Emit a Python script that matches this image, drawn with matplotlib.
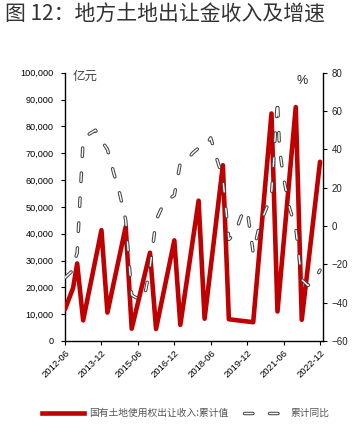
import matplotlib
matplotlib.use('Agg')
import matplotlib.pyplot as plt
import matplotlib.dates as mdates
import matplotlib.ticker as mticker
from matplotlib.lines import Line2D
from matplotlib.legend_handler import HandlerTuple
import pandas as pd

plt.rcParams['font.family'] = ['Liberation Sans', 'Noto Sans CJK SC', 'DejaVu Sans']
plt.rcParams['lines.scale_dashes'] = False

title = '图 12：地方土地出让金收入及增速'
value_label = '国有土地使用权出让收入:累计值'
yoy_label = '累计同比'
left_unit = '亿元'
right_unit = '%'

# cumulative land-transfer revenue (亿元)
value_dates = ['2012-06', '2012-10', '2012-12', '2013-03', '2013-12', '2014-03', '2014-12',
               '2015-03', '2015-12', '2016-03', '2016-12', '2017-03', '2017-12', '2018-03',
               '2018-12', '2019-03', '2020-03', '2020-12', '2021-03', '2021-12', '2022-03',
               '2022-12']
values = [11800, 19800, 28900, 7700, 41300, 10600, 42600,
          4600, 32900, 4500, 37500, 6000, 52300, 8300,
          65500, 8100, 7000, 84800, 11000, 87200, 7900,
          66800]

# cumulative YoY (%)
yoy_dates = ['2012-06', '2012-09', '2012-12', '2013-03', '2013-06', '2013-09', '2013-12',
             '2014-03', '2014-06', '2014-09', '2014-12', '2015-03', '2015-06', '2015-09',
             '2015-12', '2016-03', '2016-06', '2016-09', '2016-12', '2017-03', '2017-06',
             '2017-09', '2017-12', '2018-03', '2018-06', '2018-09', '2018-12', '2019-03',
             '2019-06', '2019-09', '2019-12', '2020-03', '2020-06', '2020-09', '2020-12',
             '2021-03', '2021-04', '2021-06', '2021-09', '2021-12', '2022-03', '2022-06',
             '2022-09', '2022-12']
yoy = [-27, -24, -14, 45, 48, 50, 44.6,
       40, 28, 17, 3, -36, -38, -38,
       -22, 3, 10, 14, 16, 33, 34,
       38, 40.7, 41, 46, 35, 25, -7,
       -4, 5, 8.5, -14, 0, 8, 16,
       66, 40, 25, 9, -1, -28, -31,
       -29, -23]

vx = pd.to_datetime(value_dates)
yx = pd.to_datetime(yoy_dates)

W, H = 360, 429
fig = plt.figure(figsize=(W / 100, H / 100), dpi=100)
ax = fig.add_axes([65 / W, 1 - 341 / H, (322.7 - 65) / W, (341 - 72.7) / H])
ax2 = ax.twinx()

red = '#C00000'
ax.plot(vx, values, color=red, lw=3.3, solid_joinstyle='round', solid_capstyle='round', zorder=3)

dash = (0, (6.1, 11.9))
ax2.plot(yx, yoy, color='#444444', lw=2.5, linestyle=dash, dash_capstyle='round',
         dash_joinstyle='round', zorder=4)
ax2.plot(yx, yoy, color='white', lw=1.0, linestyle=dash, dash_capstyle='round',
         dash_joinstyle='round', zorder=5)

ax.set_ylim(0, 100000)
ax.set_yticks(range(0, 100001, 10000))
ax.yaxis.set_major_formatter(mticker.FuncFormatter(lambda v, p: f'{int(v):,}'))
ax2.set_ylim(-60, 80)
ax2.set_yticks(range(-60, 81, 20))

ax.set_xlim(pd.Timestamp('2012-06-01'), pd.Timestamp('2023-01-10'))
xt = pd.date_range('2012-06-01', '2022-12-01', freq='18MS')
ax.set_xticks(xt)
ax.xaxis.set_major_formatter(mdates.DateFormatter('%Y-%m'))
for lab in ax.get_xticklabels():
    lab.set_rotation(45)
    lab.set_ha('right')
    lab.set_va('top')
    lab.set_rotation_mode('anchor')

for a in (ax, ax2):
    a.spines['top'].set_visible(False)
    for s in ('left', 'right', 'bottom'):
        a.spines[s].set_color('black')
        a.spines[s].set_linewidth(1.0)
ax.spines['right'].set_visible(False)
ax2.spines['left'].set_visible(False)
ax2.spines['bottom'].set_visible(False)

ax.tick_params(axis='y', length=2.6, width=0.8, pad=5.5, labelsize=6.6, colors='black')
ax.tick_params(axis='x', length=2.6, width=0.8, pad=2.5, labelsize=6.8, colors='black')
ax2.tick_params(axis='y', length=2.9, width=0.8, pad=3.6, labelsize=7, colors='black')
for lab in ax2.get_yticklabels():
    lab.set_color('#222222')

ax.text((73 - 65) / 257.7, (341 - 77) / 268, left_unit, transform=ax.transAxes,
        ha='left', va='center', fontsize=9, color='#444444', family=['Noto Sans CJK SC'])
ax.text((302.5 - 65) / 257.7, (341 - 81) / 268, right_unit, transform=ax.transAxes,
        ha='center', va='center', fontsize=9, color='#222222')

fig.text(5 / W, 1 - 15 / H, title, ha='left', va='center', fontsize=15, color='#333333',
         family=['Noto Sans CJK SC'])

h_red = Line2D([], [], color=red, lw=3.3)
h_o = Line2D([], [], color='#444444', lw=2.5, linestyle=dash, dash_capstyle='round')
h_i = Line2D([], [], color='white', lw=1.0, linestyle=dash, dash_capstyle='round')
fig.legend([h_red, (h_o, h_i)], [value_label, yoy_label], loc='center',
           bbox_to_anchor=(186 / W, 1 - 413 / H), ncol=2, frameon=False,
           handler_map={tuple: HandlerTuple(ndivide=1, pad=0)},
           prop={'family': ['Noto Sans CJK SC'], 'size': 7}, labelcolor='#555555',
           handlelength=4.3, handletextpad=0.5, columnspacing=1.6)

fig.savefig('out.png', dpi=100)
